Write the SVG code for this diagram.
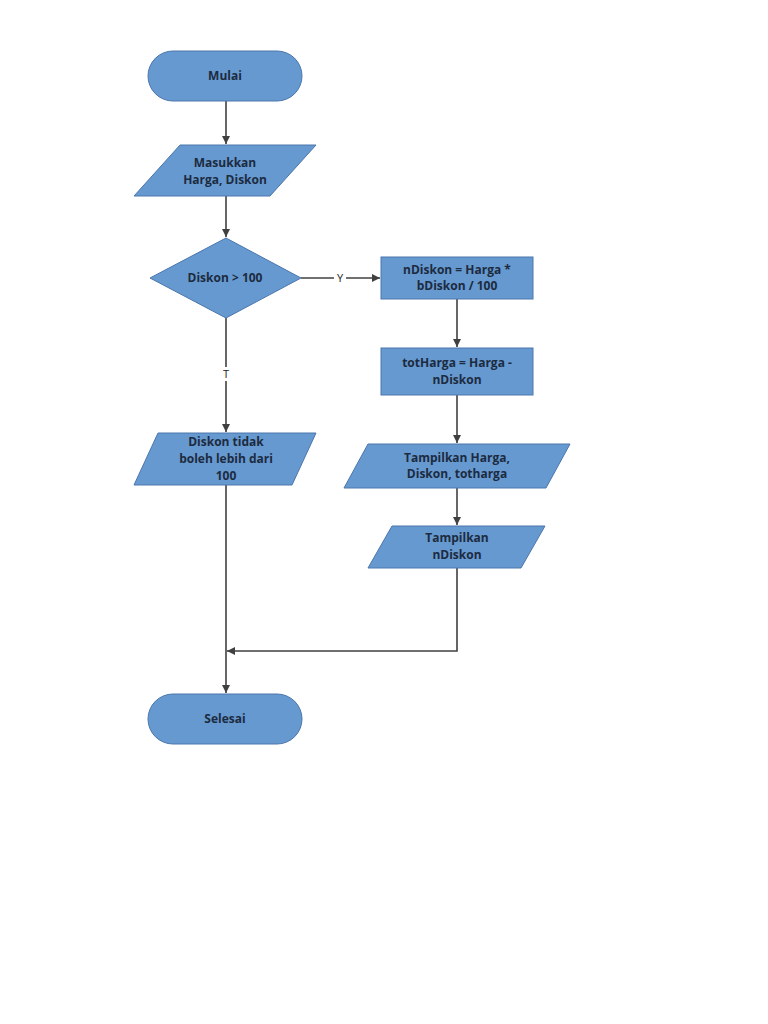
<svg xmlns="http://www.w3.org/2000/svg" width="768" height="1024" viewBox="0 0 768 1024">
<style>
.s{fill:#6699cf;stroke:#4a76ad;stroke-width:1}
.t{font-family:"Open Sans","Liberation Sans",sans-serif;font-weight:bold;font-size:12px;fill:#1c2b3f;text-anchor:middle}
.c{fill:none;stroke:#404040;stroke-width:1.6}
.l{font-family:"Open Sans","Liberation Sans",sans-serif;font-size:11px;fill:#222;text-anchor:middle}
</style>
<defs><marker id="a" markerWidth="10" markerHeight="10" refX="9" refY="5" orient="auto" markerUnits="userSpaceOnUse"><path d="M1,1 L9,5 L1,9 Z" fill="#404040"/></marker></defs>
<rect width="768" height="1024" fill="#fff"/>
<g id="connectors">
<path class="c" d="M226,101 V144" marker-end="url(#a)"/>
<path class="c" d="M226,196 V237" marker-end="url(#a)"/>
<path class="c" d="M301,278 H380" marker-end="url(#a)"/>
<rect x="334" y="271" width="12" height="13" fill="#fff"/>
<text class="l" x="340" y="282">Y</text>
<path class="c" d="M226,318 V432" marker-end="url(#a)"/>
<rect x="220" y="367" width="12" height="14" fill="#fff"/>
<text class="l" x="226" y="378">T</text>
<path class="c" d="M457,299 V347" marker-end="url(#a)"/>
<path class="c" d="M457,395 V443" marker-end="url(#a)"/>
<path class="c" d="M457,488 V525" marker-end="url(#a)"/>
<path class="c" d="M457,568 V651 H227" marker-end="url(#a)"/>
<path class="c" d="M226,485 V693" marker-end="url(#a)"/>
</g>
<g id="mulai"><rect class="s" x="148" y="51" width="154" height="50" rx="25"/><text class="t" x="225" y="80">Mulai</text></g>
<g id="input"><polygon class="s" points="180,145 316,145 270,196 134,196"/><text class="t" x="225" y="167">Masukkan</text><text class="t" x="225" y="184">Harga, Diskon</text></g>
<g id="decision"><polygon class="s" points="226,238 301,278 226,318 150,278"/><text class="t" x="225" y="282">Diskon &gt; 100</text></g>
<g id="ndiskon"><rect class="s" x="381" y="257" width="152" height="42"/><text class="t" x="457" y="274">nDiskon = Harga *</text><text class="t" x="457" y="290">bDiskon / 100</text></g>
<g id="totharga"><rect class="s" x="381" y="348" width="152" height="47"/><text class="t" x="457" y="367">totHarga = Harga -</text><text class="t" x="457" y="384">nDiskon</text></g>
<g id="tampil1"><polygon class="s" points="368,444 570,444 546,488 344,488"/><text class="t" x="457" y="462">Tampilkan Harga,</text><text class="t" x="457" y="478">Diskon, totharga</text></g>
<g id="tampil2"><polygon class="s" points="392,526 545,526 521,568 368,568"/><text class="t" x="457" y="542">Tampilkan</text><text class="t" x="457" y="559">nDiskon</text></g>
<g id="error"><polygon class="s" points="158,433 316,433 292,485 134,485"/><text class="t" x="226" y="446">Diskon tidak</text><text class="t" x="226" y="463">boleh lebih dari</text><text class="t" x="226" y="480">100</text></g>
<g id="selesai"><rect class="s" x="148" y="694" width="154" height="50" rx="25"/><text class="t" x="225" y="723">Selesai</text></g>
</svg>
